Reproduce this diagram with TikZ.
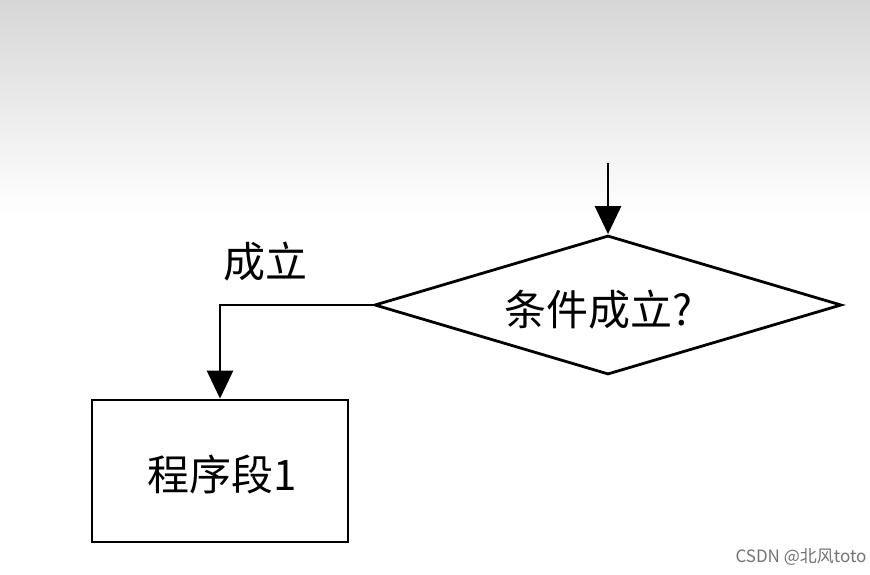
\documentclass[tikz,border=0pt]{standalone}
\usepackage{fontspec}
\newfontfamily\cjk{Noto Sans CJK SC}
\usetikzlibrary{shapes.geometric,arrows.meta}
\begin{document}
\begin{tikzpicture}[x=1pt,y=-1pt,
  line/.style={line width=2.8pt},
  arr/.style={line, -{Triangle[length=28pt,width=26pt]}},
  txt/.style={font=\cjk\fontsize{42}{46}\selectfont}]
\useasboundingbox (0,0) rectangle (870,575);
\shade[top color=black!16, bottom color=white] (0,0) rectangle (870,215);
\fill[white] (0,215) rectangle (870,575);
\node[draw, line, diamond, minimum width=467pt, minimum height=139pt, aspect=3.36, inner sep=0pt] (d) at (608,305) {};
\node[txt] at (598,310) {条件成立?};
\coordinate (s) at (608,163);
\draw[arr] (s) -- (d.north);
\node[draw, line, minimum width=256pt, minimum height=142pt, inner sep=0pt] (b) at (220,471) {};
\node[txt] at (222,474) {程序段1};
\coordinate (c) at (220,305);
\draw[arr] (d.west) -- (c) -- (b.north);
\node[font=\cjk\fontsize{42}{46}\selectfont] (l) at (265,262) {成立};
\node[font=\cjk\fontsize{17}{20}\selectfont, text=black!55] (w) at (801,557) {CSDN @北风toto};
\end{tikzpicture}
\end{document}
